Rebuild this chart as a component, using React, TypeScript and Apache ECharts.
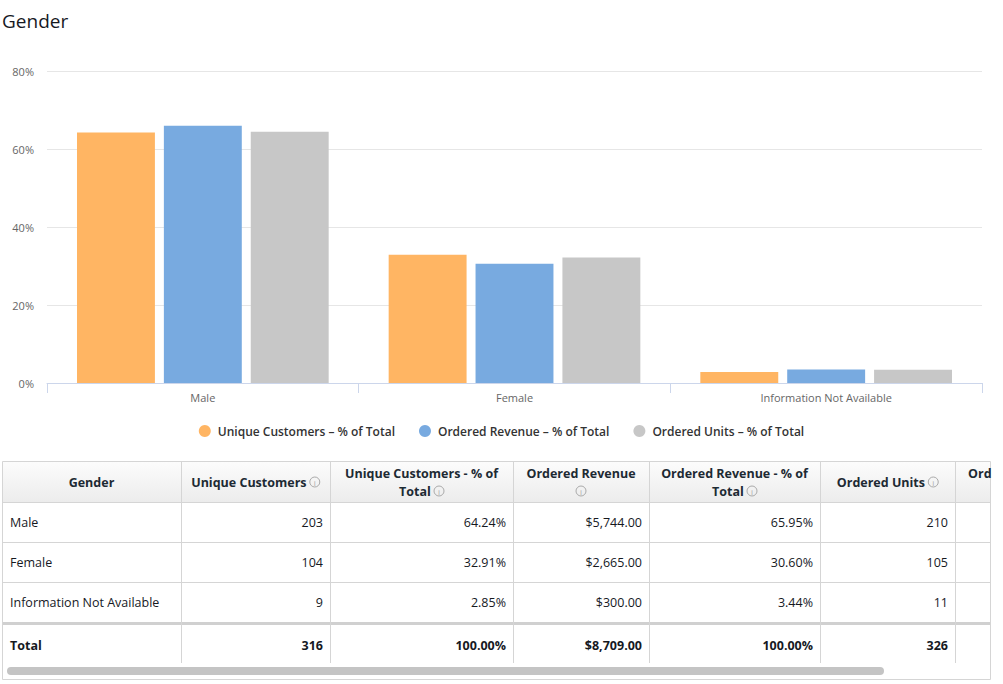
import React, { useEffect, useRef } from "react";
import * as echarts from "echarts";

const categories = ["Male", "Female", "Information Not Available"];
const uniqueCustomersPct = [64.24, 32.91, 2.85];
const orderedRevenuePct = [65.95, 30.6, 3.44];
const orderedUnitsPct = [64.42, 32.21, 3.37];
const seriesNames = [
  "Unique Customers \u2013 % of Total",
  "Ordered Revenue \u2013 % of Total",
  "Ordered Units \u2013 % of Total",
];
const yTicks = [0, 20, 40, 60, 80];

const uniqueCustomers = ["203", "104", "9"];
const uniqueCustomersPctText = ["64.24%", "32.91%", "2.85%"];
const orderedRevenue = ["$5,744.00", "$2,665.00", "$300.00"];
const orderedRevenuePctText = ["65.95%", "30.60%", "3.44%"];
const orderedUnits = ["210", "105", "11"];
const totals = ["Total", "316", "100.00%", "$8,709.00", "100.00%", "326"];

const headerLines: string[][] = [
  ["Gender"],
  ["Unique Customers|i"],
  ["Unique Customers - % of", "Total|i"],
  ["Ordered Revenue", "|i"],
  ["Ordered Revenue - % of", "Total|i"],
  ["Ordered Units|i"],
];

const FONT = "Open Sans";
const colX = [2, 181, 330, 513, 649, 820, 955, 990];
const rowY = [462, 502, 542, 582, 622];

export default function App() {
  const ref = useRef<HTMLDivElement>(null);
  useEffect(() => {
    if (!ref.current) return;
    const chart = echarts.init(ref.current, null, { renderer: "svg" });
    const textColor = "#16191f";
    const headColor = "#1d2a33";
    const graphics: any[] = [];

    graphics.push({
      type: "text",
      x: 2,
      y: 21,
      style: { text: "Gender", fontSize: 19, fill: textColor, fontFamily: FONT, verticalAlign: "middle" },
    });
    // table frame
    graphics.push({
      type: "rect",
      shape: { x: 2.5, y: 461.5, width: 988, height: 218 },
      style: { fill: "#fff", stroke: "#d5d5d5", lineWidth: 1 },
    });
    graphics.push({
      type: "rect",
      shape: { x: 3, y: 462, width: 987, height: 40 },
      style: {
        fill: new echarts.graphic.LinearGradient(0, 0, 0, 1, [
          { offset: 0, color: "#fcfcfc" },
          { offset: 1, color: "#ececec" },
        ]),
      },
    });
    [502, 542, 582].forEach((y) =>
      graphics.push({
        type: "line",
        shape: { x1: 3, y1: y + 0.5, x2: 990, y2: y + 0.5 },
        style: { stroke: "#d5d5d5", lineWidth: 1 },
      })
    );
    graphics.push({
      type: "rect",
      shape: { x: 3, y: 622, width: 987, height: 3 },
      style: { fill: "#d0d0d0" },
    });
    colX.slice(1, 7).forEach((x) =>
      graphics.push({
        type: "line",
        shape: { x1: x + 0.5, y1: 462, x2: x + 0.5, y2: 663 },
        style: { stroke: "#d5d5d5", lineWidth: 1 },
      })
    );
    // header texts
    const rich = {
      b: { fontWeight: "bold", fontSize: 12.5, fill: headColor, fontFamily: FONT },
      i: {
        width: 10,
        height: 10,
        borderRadius: 6,
        borderWidth: 1,
        borderColor: "#aaa",
        fill: "#aaa",
        fontSize: 8,
        align: "center",
        verticalAlign: "middle",
        lineHeight: 10,
        fontFamily: FONT,
      },
    };
    headerLines.forEach((lines, ci) => {
      const cx = (colX[ci] + colX[ci + 1]) / 2;
      lines.forEach((l, li) => {
        const [main, icon] = l.split("|");
        let s = main ? `{b|${main}}` : "";
        if (icon !== undefined) s += (main ? "{b| }" : "") + "{i|i}";
        const y = lines.length === 1 ? 482 : li === 0 ? 473 : 491;
        graphics.push({
          type: "text",
          x: cx,
          y,
          style: { text: s, rich, align: "center", verticalAlign: "middle" },
        });
      });
    });
    graphics.push({
      type: "text",
      x: 968,
      y: 473,
      style: { text: "Ord", fontWeight: "bold", fontSize: 12.5, fill: headColor, fontFamily: FONT, verticalAlign: "middle" },
    });
    // body
    const cols = [categories, uniqueCustomers, uniqueCustomersPctText, orderedRevenue, orderedRevenuePctText, orderedUnits];
    categories.forEach((_, ri) => {
      const cy = (rowY[ri + 1] + rowY[ri + 2]) / 2;
      cols.forEach((col, ci) => {
        graphics.push({
          type: "text",
          x: ci === 0 ? 10 : colX[ci + 1] - 7,
          y: cy,
          style: {
            text: col[ri],
            fontSize: 12.5,
            fill: textColor,
            fontFamily: FONT,
            align: ci === 0 ? "left" : "right",
            verticalAlign: "middle",
          },
        });
      });
    });
    totals.forEach((t, ci) => {
      graphics.push({
        type: "text",
        x: ci === 0 ? 10 : colX[ci + 1] - 7,
        y: 645,
        style: {
          text: t,
          fontSize: 12.5,
          fontWeight: "bold",
          fill: textColor,
          fontFamily: FONT,
          align: ci === 0 ? "left" : "right",
          verticalAlign: "middle",
        },
      });
    });
    graphics.push({
      type: "rect",
      shape: { x: 7, y: 667, width: 877, height: 8, r: 4 },
      style: { fill: "#c4c4c4" },
    });

    const colors = ["#ffb563", "#78aae0", "#c7c7c7"];
    const values = [uniqueCustomersPct, orderedRevenuePct, orderedUnitsPct];

    chart.setOption({
      animation: false,
      textStyle: { fontFamily: FONT },
      grid: { left: 47, right: 21, top: 71, bottom: 301 },
      legend: {
        top: 420,
        left: "center",
        icon: "circle",
        itemWidth: 12,
        itemHeight: 12,
        itemGap: 24,
        textStyle: { fontSize: 12, fontWeight: 600, color: "#333", fontFamily: FONT, padding: [0, 0, 0, 2] },
        data: seriesNames,
      },
      xAxis: {
        type: "category",
        data: categories,
        axisLine: { lineStyle: { color: "#ccd6eb" } },
        axisTick: { show: true, length: 10, lineStyle: { color: "#ccd6eb" } },
        axisLabel: { color: "#666", fontSize: 11, margin: 9 },
      },
      yAxis: {
        type: "value",
        min: yTicks[0],
        max: yTicks[yTicks.length - 1],
        interval: 20,
        axisLabel: { formatter: "{value}%", color: "#666", fontSize: 11, margin: 13 },
        splitLine: { lineStyle: { color: "#e6e6e6" } },
        axisLine: { show: false },
        axisTick: { show: false },
      },
      series: seriesNames.map((name, i) => ({
        name,
        type: "bar",
        data: values[i],
        barWidth: "25%",
        barGap: "11.5%",
        itemStyle: { color: colors[i] },
      })),
      graphic: graphics,
    });
    return () => chart.dispose();
  }, []);
  return (
    <div
      ref={ref}
      style={{ position: "absolute", left: 0, top: 0, width: 1003, height: 684, background: "#fff" }}
    />
  );
}
